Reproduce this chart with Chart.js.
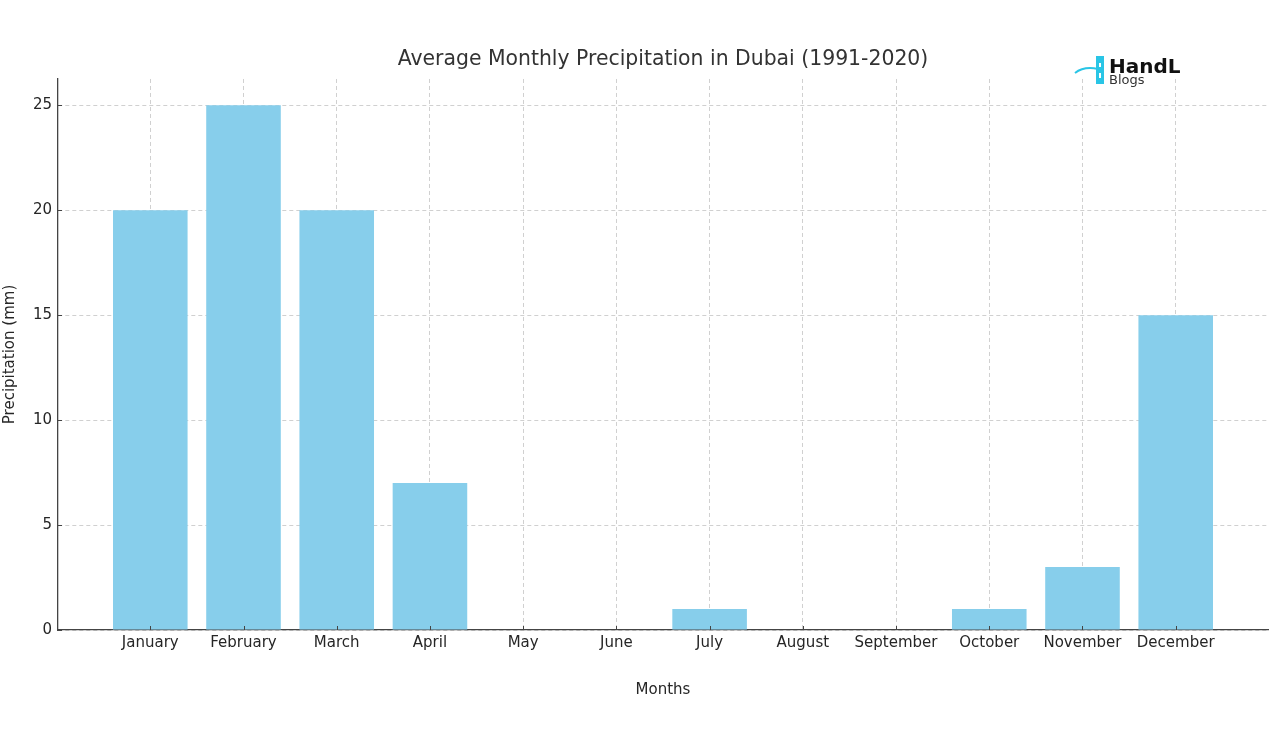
<!DOCTYPE html>
<html>
<head>
<meta charset="utf-8">
<script src="https://cdn.jsdelivr.net/npm/chart.js@4"></script>
<style>
  html, body { margin: 0; padding: 0; background: #fff; }
  #wrap { width: 1280px; height: 747px; }
</style>
</head>
<body>
<div id="wrap"><canvas id="rainChart"></canvas></div>
<script>
// monthly averages (mm)
const months = ["January", "February", "March", "April", "May", "June",
                "July", "August", "September", "October", "November", "December"];
const precipitation = [20, 25, 20, 7, 0, 0, 1, 0, 0, 1, 3, 15];
const yTicks = [0, 5, 10, 15, 20, 25];

const axisColor = "#444";
const textColor = "#262626";

// small inward tick marks like the original
const innerTicks = {
    id: "innerTicks",
    afterDraw(chart) {
        const { ctx, chartArea, scales } = chart;
        ctx.save();
        ctx.strokeStyle = axisColor;
        ctx.lineWidth = 1;
        ctx.beginPath();
        months.forEach((m, i) => {
            const px = Math.round(scales.x.getPixelForValue(i)) + 0.5;
            ctx.moveTo(px, chartArea.bottom);
            ctx.lineTo(px, chartArea.bottom - 4);
        });
        yTicks.forEach(v => {
            const py = Math.round(scales.y.getPixelForValue(v)) + 0.5;
            ctx.moveTo(chartArea.left, py);
            ctx.lineTo(chartArea.left + 4, py);
        });
        ctx.stroke();
        ctx.restore();
    }
};

// HandL Blogs watermark in the top right corner
const watermark = {
    id: "watermark",
    afterDraw(chart) {
        const ctx = chart.ctx;
        ctx.save();
        ctx.fillStyle = "#29c5e6";
        ctx.fillRect(1096, 56, 8, 28);
        ctx.fillStyle = "#fff";
        ctx.fillRect(1099, 63, 2, 4);
        ctx.fillRect(1099, 73, 2, 5);
        ctx.strokeStyle = "#29c5e6";
        ctx.lineWidth = 2;
        ctx.beginPath();
        ctx.moveTo(1075, 73);
        ctx.quadraticCurveTo(1084, 66, 1098, 69);
        ctx.stroke();
        ctx.fillStyle = "#111";
        ctx.textBaseline = "alphabetic";
        ctx.font = "bold 20px 'DejaVu Sans'";
        ctx.fillText("HandL", 1109, 73);
        ctx.fillStyle = "#333";
        ctx.font = "13px 'DejaVu Sans'";
        ctx.fillText("Blogs", 1109, 84);
        ctx.restore();
    }
};

const ctx = document.getElementById("rainChart").getContext("2d");
const rainChart = new Chart(ctx, {
    type: "bar",
    data: {
        datasets: [{
            label: "Precipitation",
            data: precipitation.map((v, i) => ({ x: i, y: v })),
            backgroundColor: "#87CEEB",
            borderWidth: 0,
            barPercentage: 0.8,
            categoryPercentage: 1.0
        }]
    },
    options: {
        responsive: true,
        maintainAspectRatio: false,
        animation: false,
        layout: { padding: { top: 0, right: 12, bottom: 0, left: 0 } },
        plugins: {
            legend: { display: false },
            tooltip: { enabled: false },
            title: {
                display: true,
                text: "Average Monthly Precipitation in Dubai (1991-2020)",
                color: "#333",
                fullSize: false,
                font: { family: "DejaVu Sans", size: 20.4, weight: "normal" },
                padding: { top: 47, bottom: 7.5 }
            }
        },
        scales: {
            x: {
                type: "linear",
                offset: false,
                min: -0.99,
                max: 11.99,
                afterBuildTicks: scale => {
                    scale.ticks = months.map((m, i) => ({ value: i }));
                },
                afterFit: scale => { scale.height = 117; },
                ticks: {
                    autoSkip: false,
                    maxRotation: 0,
                    padding: 4,
                    color: textColor,
                    font: { family: "DejaVu Sans", size: 15 },
                    callback: v => months[v]
                },
                grid: { color: "#d0d0d0", lineWidth: 1, drawTicks: false, offset: false },
                border: { display: true, color: axisColor, width: 1.3, dash: [4, 3] },
                title: {
                    display: true,
                    text: "Months",
                    color: textColor,
                    font: { family: "DejaVu Sans", size: 15 },
                    padding: { top: 0, bottom: 48 }
                }
            },
            y: {
                min: 0,
                max: 26.25,
                afterBuildTicks: scale => {
                    scale.ticks = yTicks.map(v => ({ value: v }));
                },
                afterFit: scale => { scale.width = 58; },
                ticks: {
                    padding: 6,
                    color: textColor,
                    font: { family: "DejaVu Sans", size: 15 }
                },
                grid: { color: "#d0d0d0", lineWidth: 1, drawTicks: false },
                border: { display: true, color: axisColor, width: 1.3, dash: [4, 3] },
                title: {
                    display: true,
                    text: "Precipitation (mm)",
                    color: textColor,
                    font: { family: "DejaVu Sans", size: 15 },
                    padding: { top: 1, bottom: 0 }
                }
            }
        }
    },
    plugins: [innerTicks, watermark]
});
</script>
</body>
</html>
